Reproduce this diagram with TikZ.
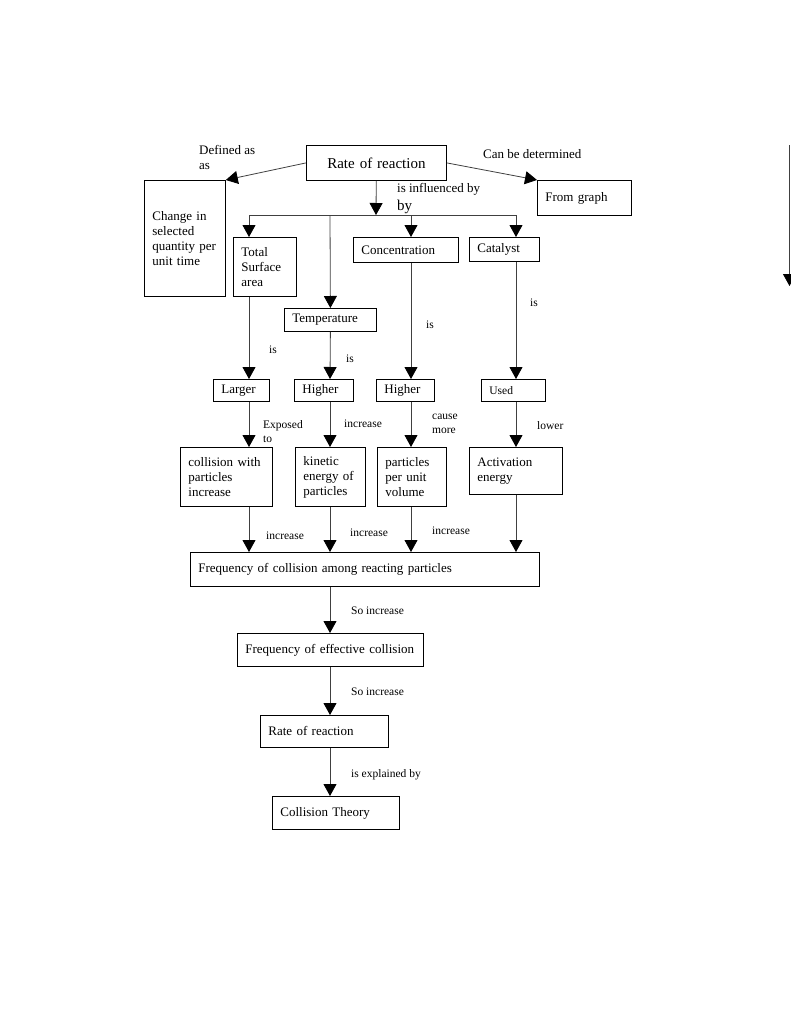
\documentclass[tikz,border=0pt]{standalone}
\usepackage{fontspec}
\setmainfont{Liberation Serif}
\usetikzlibrary{arrows.meta}
\newcommand{\bigsize}{\fontsize{15}{17}\selectfont}
\newcommand{\boxsize}{\fontsize{13}{15}\selectfont}
\newcommand{\labsize}{\fontsize{11.5}{14}\selectfont}
\tikzset{
	box/.style={draw, line width=0.8pt, anchor=north west, inner xsep=8pt, inner ysep=0pt, align=left, font=\boxsize},
	lab/.style={anchor=base west, inner sep=0pt, align=left, font=\labsize},
	wire/.style={draw=black!75, line width=0.8pt},
	link/.style={wire, -{Triangle[length=12pt,width=13pt,black]}}
}
\begin{document}
\begin{tikzpicture}[x=1pt,y=-1pt]
				\useasboundingbox (0,0) rectangle (791,1023);
				\coordinate (colA) at (249,0);
				\coordinate (colB) at (330,0);
				\coordinate (colC) at (411,0);
				\coordinate (colD) at (516,0);
				\coordinate (bus) at (376,215);
				\coordinate (edgetop) at (789.5,145);
				\coordinate (edgebot) at (789.5,286);
				\node[box, font=\bigsize, align=center, minimum width=140pt, minimum height=35pt, text width=124pt] (rate) at (306,145) {Rate of reaction};
				\node[box, minimum width=81pt, minimum height=116pt, text width=65pt] (change) at (144,180) {Change in\\selected\\quantity per\\unit time};
				\node[box, minimum width=94pt, minimum height=35pt, text width=78pt] (graph) at (537,180) {From graph};
				\node[box, minimum width=63pt, minimum height=59pt, text width=47pt] (total) at (233,237) {Total\\Surface\\area};
				\node[box, minimum width=92pt, minimum height=23pt, text width=76pt] (temp) at (284,308) {Temperature};
				\node[box, minimum width=105pt, minimum height=25pt, text width=89pt] (conc) at (353,237) {Concentration};
				\node[box, minimum width=70pt, minimum height=24pt, text width=54pt] (cat) at (469,237) {Catalyst};
				\node[box, minimum width=56pt, minimum height=22pt, text width=40pt] (larger) at (213,379) {Larger};
				\node[box, minimum width=59pt, minimum height=22pt, text width=43pt] (highera) at (294,379) {Higher};
				\node[box, minimum width=58pt, minimum height=22pt, text width=42pt] (higherb) at (376,379) {Higher};
				\node[box, font=\labsize, minimum width=64pt, minimum height=22pt, text width=48pt] (used) at (481,379) {Used};
				\node[box, minimum width=92pt, minimum height=59pt, text width=76pt] (coll) at (180,447) {collision with\\particles\\increase};
				\node[box, minimum width=70pt, minimum height=59pt, text width=54pt] (kin) at (295,447) {kinetic\\energy of\\particles};
				\node[box, minimum width=69pt, minimum height=59pt, text width=53pt] (part) at (377,447) {particles\\per unit\\volume};
				\node[box, minimum width=93pt, minimum height=47pt, text width=77pt] (act) at (469,447) {Activation\\energy};
				\node[box, minimum width=349pt, minimum height=34pt, text width=333pt] (freq) at (190,552) {Frequency of collision among reacting particles};
				\node[box, minimum width=186pt, minimum height=33pt, text width=170pt] (eff) at (237,633) {Frequency of effective collision};
				\node[box, minimum width=128pt, minimum height=32pt, text width=112pt] (rateb) at (260,715) {Rate of reaction};
				\node[box, minimum width=127pt, minimum height=33pt, text width=111pt] (theory) at (272,796) {Collision Theory};
				\draw[link] (rate.west) -- (change.north east);
				\draw[link] (rate.east) -- (graph.north west);
				\draw[link] (rate) -- (bus);
				\draw[wire] (bus -| colA) -- (bus -| colD);
				\draw[link] (bus -| colA) -- (total.north -| colA);
				\draw[link] (bus -| colB) -- (temp.north);
				\draw[link] (bus -| colC) -- (conc.north -| colC);
				\draw[link] (bus -| colD) -- (cat.north -| colD);
				\draw[link] (total.south -| colA) -- (larger.north -| colA);
				\draw[link] (temp.south) -- (highera.north -| colB);
				\draw[link] (conc.south -| colC) -- (higherb.north -| colC);
				\draw[link] (cat.south -| colD) -- (used.north -| colD);
				\draw[link] (larger.south -| colA) -- (coll.north -| colA);
				\draw[link] (highera.south -| colB) -- (kin.north -| colB);
				\draw[link] (higherb.south -| colC) -- (part.north -| colC);
				\draw[link] (used.south -| colD) -- (act.north -| colD);
				\draw[link] (coll.south -| colA) -- (freq.north -| colA);
				\draw[link] (kin.south -| colB) -- (freq.north -| colB);
				\draw[link] (part.south -| colC) -- (freq.north -| colC);
				\draw[link] (act.south -| colD) -- (freq.north -| colD);
				\draw[link] (freq.south -| colB) -- (eff.north -| colB);
				\draw[link] (eff.south -| colB) -- (rateb.north -| colB);
				\draw[link] (rateb.south -| colB) -- (theory.north -| colB);
				\draw[link] (edgetop) -- (edgebot);
				\node[lab, font=\boxsize] (defined) at (199,169.5) {Defined as\\as};
				\node[lab, font=\boxsize] (determined) at (483,158) {Can be determined};
				\node[lab, font=\boxsize] (influenced) at (397,192) {is influenced by};
				\node[lab, font=\bigsize] (influencedby) at (397,210) {by};
				\node[lab] (isA) at (269,353) {is};
				\node[lab] (isB) at (346,362) {is};
				\node[lab] (isC) at (426,328) {is};
				\node[lab] (isD) at (530,306) {is};
				\node[lab] (exposed) at (263,442) {Exposed\\to};
				\node[lab] (incB) at (344,427) {increase};
				\node[lab] (cause) at (432,433) {cause\\more};
				\node[lab] (lower) at (537,429) {lower};
				\node[lab] (incA) at (266,539) {increase};
				\node[lab] (incC) at (350,536) {increase};
				\node[lab] (incD) at (432,534) {increase};
				\node[lab] (soA) at (351,614) {So increase};
				\node[lab] (soB) at (351,695) {So increase};
				\node[lab] (explained) at (351,777) {is explained by};
			\end{tikzpicture}
\end{document}
